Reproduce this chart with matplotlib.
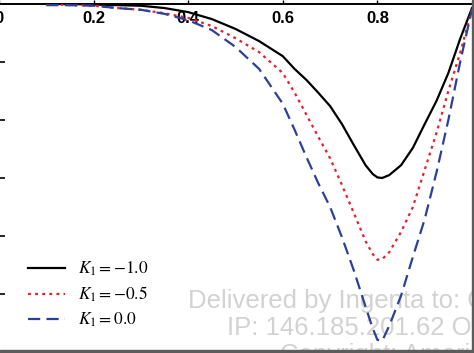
import matplotlib
matplotlib.use("Agg")
from matplotlib import pyplot as plt
from matplotlib.patches import Rectangle

plt.rcParams['mathtext.fontset'] = 'stix'

# values
x = [0.1, 0.15, 0.2, 0.25, 0.3, 0.35, 0.4, 0.45, 0.5, 0.55, 0.6, 0.625, 0.65,
     0.675, 0.7, 0.725, 0.75, 0.775, 0.79, 0.8, 0.81, 0.825, 0.85, 0.875, 0.9,
     0.925, 0.95, 0.975, 1.0]
k_minus_1 = [0.0, 0.0, -0.01, -0.02, -0.03, -0.07, -0.14, -0.26, -0.43, -0.64,
             -0.90, -1.12, -1.31, -1.53, -1.76, -2.07, -2.43, -2.78, -2.93,
             -2.99, -3.00, -2.95, -2.78, -2.48, -2.07, -1.67, -1.19, -0.60, -0.07]
k_minus_05 = [0.0, -0.02, -0.03, -0.07, -0.10, -0.16, -0.24, -0.38, -0.59, -0.83,
              -1.19, -1.53, -1.91, -2.29, -2.66, -3.12, -3.60, -4.09, -4.31,
              -4.41, -4.40, -4.28, -3.93, -3.50, -2.86, -2.22, -1.50, -0.84, -0.09]
k_zero = [-0.02, -0.02, -0.03, -0.07, -0.10, -0.17, -0.28, -0.45, -0.74, -1.12,
          -1.72, -2.17, -2.64, -3.09, -3.50, -4.02, -4.59, -5.22, -5.59,
          -5.79, -5.81, -5.55, -5.03, -4.36, -3.71, -2.90, -2.00, -1.00, -0.09]
labels = [r'$K_1 = -1.0$', r'$K_1 = -0.5$', r'$K_1 = 0.0$']
xticks = [0, 0.2, 0.4, 0.6, 0.8]
xticklabels = ['0', '0.2', '0.4', '0.6', '0.8']
yticks = [-1, -2, -3, -4, -5]

W, H = 474, 353
fig = plt.figure(figsize=(W / 100, H / 100), dpi=100)
ax = fig.add_axes([-1 / W, 0, 473 / W, 349 / H])
ax.set_facecolor('none')

ax.plot(x, k_minus_1, color='black', lw=1.6, label=labels[0], zorder=3)
ax.plot(x, k_minus_05, color='#e8202a', lw=1.6, dashes=(1.3, 1.9), label=labels[1], zorder=3)
ax.plot(x, k_zero, color='#2c3f99', lw=1.6, dashes=(5.5, 2.8), label=labels[2], zorder=3)

ax.set_xlim(0, 1)
ax.set_ylim(-349 / 58, 0)

for s in ['top', 'right', 'left']:
    ax.spines[s].set_visible(False)
ax.spines['bottom'].set_position(('axes', 1.0))
ax.spines['bottom'].set_linewidth(1.4)

ax.set_xticks(xticks, xticklabels)
ax.tick_params(axis='x', direction='in', length=3, width=1, pad=5)
for t in ax.get_xticklabels():
    t.set_fontweight('bold')
    t.set_fontsize(12)
    t.set_family('Liberation Sans')
ax.set_yticks(yticks)
ax.tick_params(axis='y', direction='in', length=4.5, width=1.2, labelleft=False)

ax.legend(loc='upper left', bbox_to_anchor=(28 / W, 1 - 260 / H),
          bbox_transform=fig.transFigure, frameon=False, fontsize=12.5,
          borderpad=0, borderaxespad=0, handlelength=2.15, handletextpad=0.75,
          labelspacing=0.38)

# watermark
wm = dict(color='#d2d2d2', fontsize=18.5, family='Liberation Sans', zorder=-1)
fig.text(188 / W, 1 - 308 / H, 'Delivered by Ingenta to: Central', **wm)
fig.text(227 / W, 1 - 335 / H, 'IP: 146.185.201.62 On: Mon', **wm)
fig.text(280 / W, 1 - 362 / H, 'Copyright: American', **wm)

# scan border
fig.patches.append(Rectangle((471.5 / W, 0), 3 / W, 1, transform=fig.transFigure,
                             color='#5c5c5c', zorder=10))
fig.patches.append(Rectangle((0, 0), 1, 3 / H, transform=fig.transFigure,
                             color='#5c5c5c', zorder=10))

fig.savefig('out.png', dpi=100)
